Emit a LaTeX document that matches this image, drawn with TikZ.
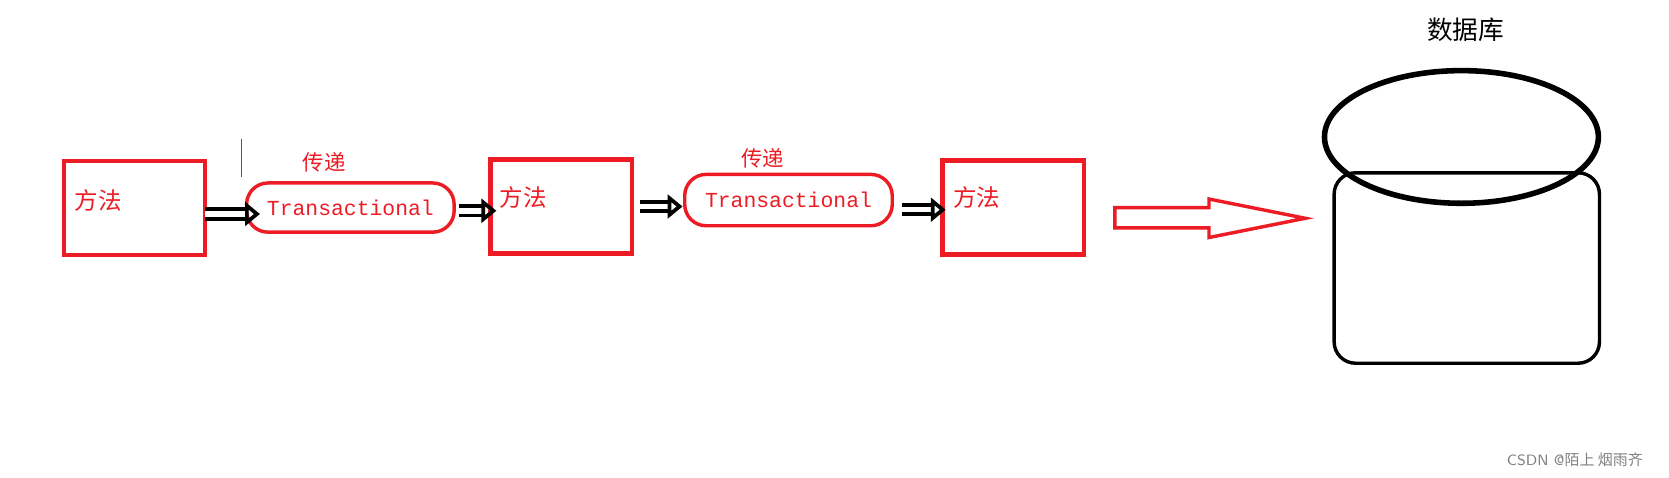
\documentclass[tikz,border=0pt]{standalone}
\usepackage{fontspec}
\setmonofont{Liberation Mono}
\newfontfamily\cjk{Noto Sans CJK SC}
\usetikzlibrary{arrows.meta,shapes.geometric}
\definecolor{mred}{RGB}{237,28,36}
\tikzset{
  methodbox/.style={draw=mred,line width=2pt,minimum width=66pt,minimum height=44pt,
    text=mred,font=\cjk\fontsize{11}{12}\selectfont,align=left},
  txbox/.style={draw=mred,line width=1.6pt,rounded corners=10pt,minimum width=97pt,
    minimum height=23pt,text=mred,font=\ttfamily\fontsize{10}{11}\selectfont},
  passlabel/.style={text=mred,font=\cjk\fontsize{10}{11}\selectfont},
  hollow/.style={line width=1.8pt,double=white,double distance=2.6pt,-{Triangle[open,length=7pt,width=11pt,line width=1.8pt]}}
}
\begin{document}
\begin{tikzpicture}[x=0.5pt,y=-0.5pt]
  \useasboundingbox (0,0) rectangle (1560,446);
  % methods
  \node[methodbox] (m1) at (125.5,194.5) {};
  \node[methodbox] (m2) at (524.5,193) {};
  \node[methodbox] (m3) at (947,194) {};
  \node[text=mred,font=\cjk\fontsize{11}{12}\selectfont,anchor=west] (l1) at (63,187) {方法};
  \node[text=mred,font=\cjk\fontsize{11}{12}\selectfont,anchor=west] (l2) at (460,185) {方法};
  \node[text=mred,font=\cjk\fontsize{11}{12}\selectfont,anchor=west] (l3) at (884,185) {方法};
  % transactional
  \node[txbox] (t1) at (327.5,194) {Transactional};
  \node[txbox,minimum height=24pt] (t2) at (737,187) {Transactional};
  \node[passlabel] (p1) at (303,152) {传递};
  \node[passlabel] (p2) at (713,148) {传递};
  \draw[mred,line width=0.4pt] (226,130) -- (226,165);
  % small arrows
  \draw[hollow] (192,200) -- (243,200);
  \draw[hollow] (429,197) -- (464,197);
  \draw[hollow] (598,193) -- (638,193);
  \draw[hollow] (843,196) -- (884,196);
  % big arrow
  \draw[mred,line width=1.6pt] (1042,194) -- (1130,194) -- (1130,186) -- (1220,204)
    -- (1130,222) -- (1130,213) -- (1042,213) -- cycle;
  % database
  \node[draw,line width=1.6pt,rounded corners=10pt,minimum width=124pt,minimum height=89pt] (db) at (1371,250.5) {};
  \node[draw,ellipse,line width=2.6pt,inner sep=0pt,minimum width=128pt,minimum height=62pt] (top) at (1366,128) {};
  \node[font=\cjk\fontsize{12}{13}\selectfont] (dbl) at (1370,28) {数据库};
  \node[text=gray,font=\sffamily\fontsize{7}{8}\selectfont] (wm) at (1472,430) {CSDN @{\cjk 陌上 烟雨齐}};
\end{tikzpicture}
\end{document}
